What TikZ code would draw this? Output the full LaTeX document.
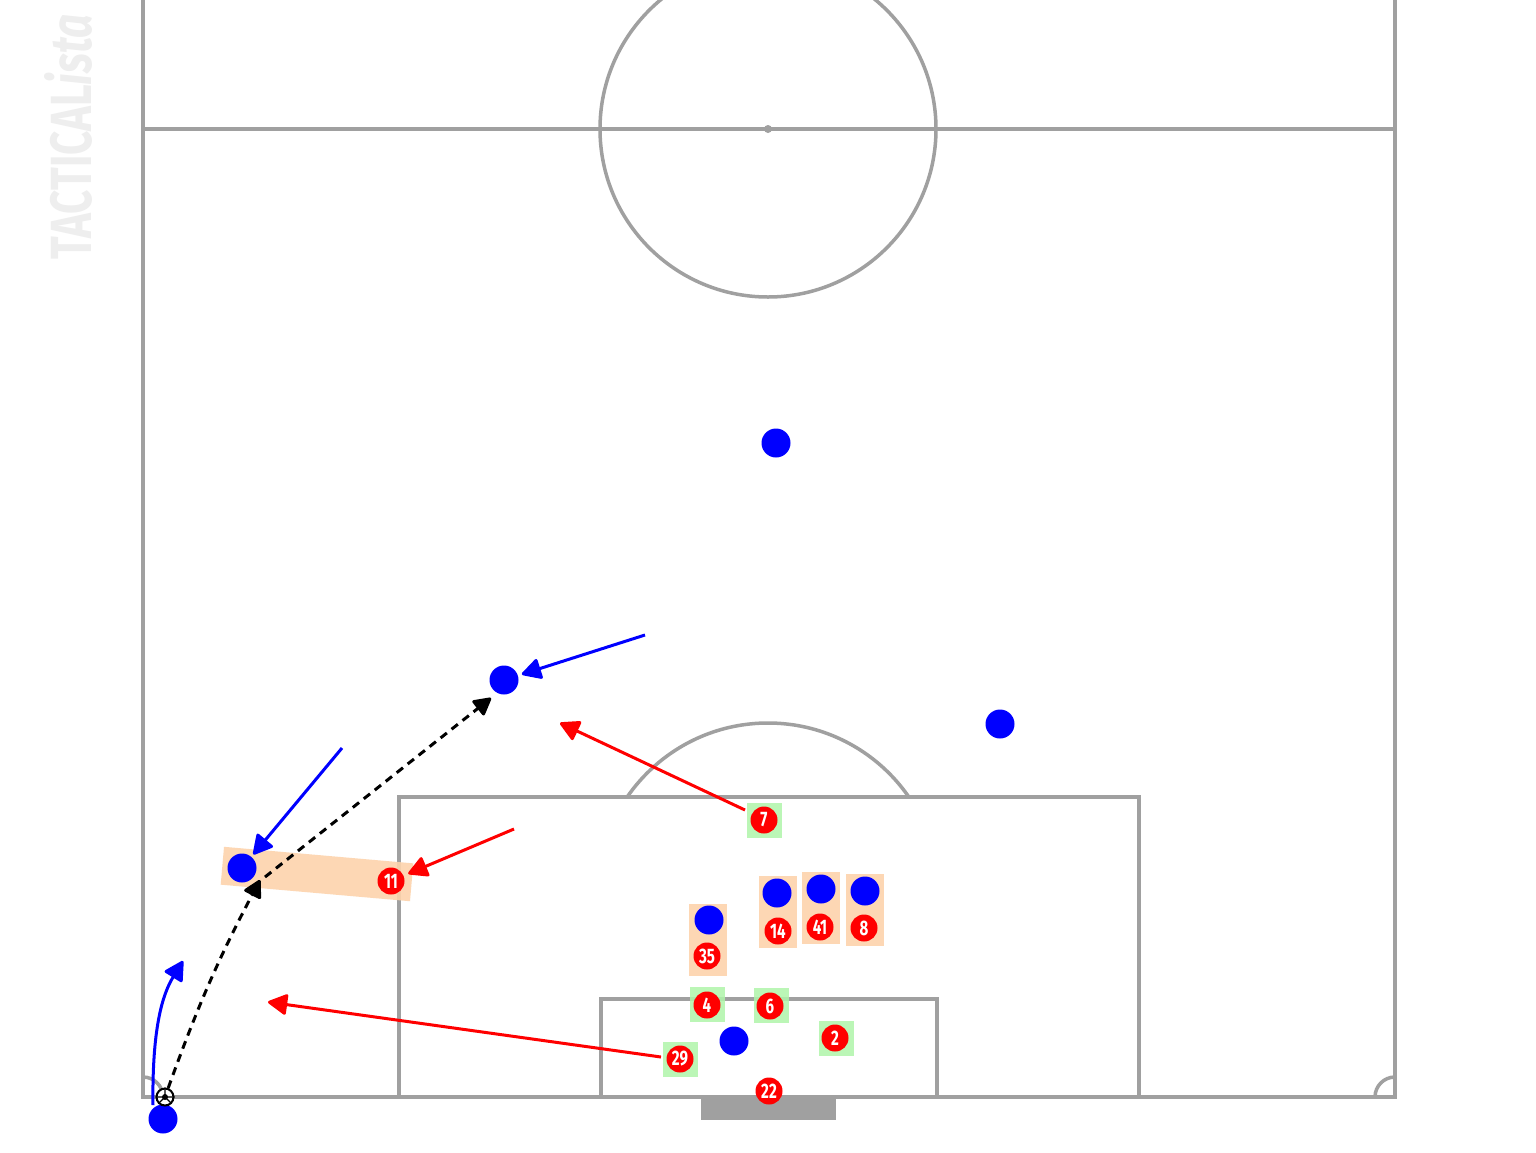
\documentclass[tikz,border=0pt]{standalone}
\usepackage{fontspec}
\usepackage{graphicx}
\usetikzlibrary{arrows.meta}
\newfontfamily\numfont[FakeStretch=0.72]{Fira Sans}
\newfontfamily\wmfont[FakeStretch=0.75]{Fira Sans}
\definecolor{pitchgray}{HTML}{A0A0A0}
\definecolor{peach}{HTML}{FDD3AC}
\definecolor{lgreen}{HTML}{B0F5AA}
\definecolor{pblue}{HTML}{0000FF}
\definecolor{pred}{HTML}{FF0000}
\definecolor{wmgray}{HTML}{EEEEEE}
\begin{document}
\begin{tikzpicture}[x=1pt,y=-1pt,
  pline/.style={draw=pitchgray,line width=3.5pt},
  bplayer/.style={circle,fill=pblue,minimum size=29pt,inner sep=0pt},
  rplayer/.style={circle,fill=pred,minimum size=27pt,inner sep=0pt,text=white,font=\numfont\bfseries\fontsize{21}{21}\selectfont},
  gbox/.style={fill=lgreen,fill opacity=0.85,minimum size=35pt,inner sep=0pt},
  pbox/.style={fill=peach,fill opacity=0.9,minimum width=38pt,minimum height=72pt,inner sep=0pt},
  barrow/.style={draw=pblue,line width=3pt,-{Triangle[length=21pt,width=22pt,round]}},
  rarrow/.style={draw=pred,line width=3pt,-{Triangle[length=21pt,width=22pt,round]}},
  karrow/.style={draw=black,line width=3pt,dash pattern=on 8pt off 6pt,-{Triangle[length=19pt,width=20pt,round]}}
]
\useasboundingbox (0,0) rectangle (1536,1152);
\fill[white] (0,0) rectangle (1536,1152);
% watermark
\node[rotate=90,text=wmgray,inner sep=0pt] (wm) at (68,137) {\resizebox{245pt}{47pt}{\wmfont\bfseries TACTICAL\itshape ista}};
% goal
\fill[pitchgray] (701,1097) rectangle (836,1120);
% pitch
\draw[pline] (143,0) -- (143,1097) -- (1395,1097) -- (1395,0);
\draw[pline] (143,129) -- (1395,129);
\draw[pline] (768,129) circle[radius=168];
\fill[pitchgray] (768,129) circle[radius=4];
\draw[pline] (399,1097) -- (399,797) -- (1139,797) -- (1139,1097);
\draw[pline] (601,1097) -- (601,999) -- (937,999) -- (937,1097);
\begin{scope}
\clip (300,600) rectangle (1200,797);
\draw[pline] (768,894) circle[radius=171];
\end{scope}
\draw[pline] (163,1097) arc[start angle=0,end angle=-90,radius=20];
\draw[pline] (1375,1097) arc[start angle=180,end angle=270,radius=20];
% background boxes
\node[pbox,minimum width=190pt,minimum height=38pt,rotate=-5] (band) at (317,874) {};
\node[pbox] (b35) at (708,940) {};
\node[pbox] (b14) at (778,912) {};
\node[pbox] (b41) at (821,908) {};
\node[pbox] (b8) at (865,910) {};
\node[gbox] (g7) at (764,820) {};
\node[gbox] (g4) at (707,1004) {};
\node[gbox] (g6) at (771,1005) {};
\node[gbox] (g2) at (836,1038) {};
\node[gbox] (g29) at (680,1059) {};
% blue players
\node[bplayer] (p1) at (776,443) {};
\node[bplayer] (p2) at (1000,724) {};
\node[bplayer] (p3) at (504,680) {};
\node[bplayer] (p4) at (242,868) {};
\node[bplayer] (p5) at (163,1119) {};
\node[bplayer] (p6) at (734,1041) {};
\node[bplayer] (p7) at (709,920) {};
\node[bplayer] (p8) at (777,893) {};
\node[bplayer] (p9) at (821,889) {};
\node[bplayer] (p10) at (865,891) {};
% red players
\node[rplayer] (r7) at (764,820) {7};
\node[rplayer] (r11) at (391,881) {11};
\node[rplayer] (r14) at (778,931) {14};
\node[rplayer] (r41) at (820,927) {41};
\node[rplayer] (r8) at (864,928) {8};
\node[rplayer] (r35) at (707,956) {35};
\node[rplayer] (r4) at (707,1005) {4};
\node[rplayer] (r6) at (770,1006) {6};
\node[rplayer] (r2) at (835,1038) {2};
\node[rplayer] (r29) at (680,1059) {29};
\node[rplayer] (r22) at (769,1091) {22};
% ball
\node[circle,draw=black,fill=white,line width=2pt,minimum size=17pt,inner sep=0pt] (ball) at (165,1097) {};
\fill[black] (ball.center) circle[radius=3];
\draw[black,line width=1.2pt] (ball.center) -- (ball.north) (ball.center) -- (ball.south west) (ball.center) -- (ball.south east) (ball.center) -- (ball.west) (ball.center) -- (ball.east);
% arrow free ends
\coordinate (a1) at (645,635);
\coordinate (a2) at (342,748);
\coordinate (a3s) at (153,1105);
\coordinate (a3e) at (183,961);
\coordinate (a4) at (514,829);
\coordinate (a5) at (560,723);
\coordinate (a6) at (268,1002);
\coordinate (d1) at (260,880);
\coordinate (d2s) at (265,877);
\coordinate (d2e) at (491,698);
\coordinate (r7s) at (745,810);
\coordinate (r29s) at (661,1057);
% blue runs
\draw[barrow,shorten >=4pt] (a1) -- (p3);
\draw[barrow,shorten >=3pt] (a2) -- (p4);
\draw[barrow] (a3s) .. controls (152,1030) and (162,995) .. (a3e);
% red runs
\draw[rarrow,shorten >=5pt] (a4) -- (r11);
\draw[rarrow] (r7s) -- (a5);
\draw[rarrow] (r29s) -- (a6);
% passes
\draw[karrow] (ball) to[bend left=4] (d1);
\draw[karrow] (d2s) -- (d2e);
\end{tikzpicture}
\end{document}
